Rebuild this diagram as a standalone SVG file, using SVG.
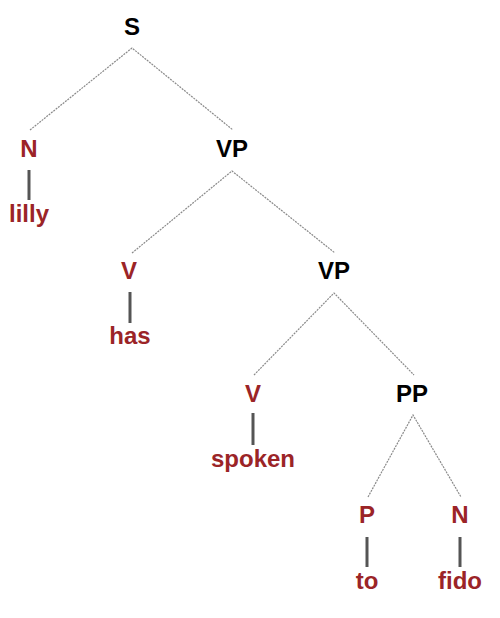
<svg xmlns="http://www.w3.org/2000/svg" width="500" height="618" viewBox="0 0 500 618">
<style>
text{font-family:"Liberation Sans",Arial,sans-serif;font-weight:bold;font-size:24px;text-anchor:middle}
.ph{fill:#000}
.lx{fill:#9b2427}
.br{stroke:#8a8a8a;stroke-width:1.2;fill:none;stroke-dasharray:2 1}
.st{stroke:#555;stroke-width:3}
</style>
<rect width="500" height="618" fill="#fff"/>
<g id="connectors">
<polyline class="br" points="30,130 132,48 233,130"/>
<polyline class="br" points="132,253 232,171 335,253"/>
<polyline class="br" points="254,375 334,293 414,375"/>
<polyline class="br" points="368,497 413,415 461,497"/>
<line class="st" x1="29" y1="170" x2="29" y2="200"/>
<line class="st" x1="130" y1="292" x2="130" y2="323"/>
<line class="st" x1="253" y1="413" x2="253" y2="445"/>
<line class="st" x1="367" y1="537" x2="367" y2="567"/>
<line class="st" x1="460" y1="537" x2="460" y2="567"/>
</g>
<g id="S"><text class="ph" x="132" y="35">S</text></g>
<g id="N1"><text class="lx" x="29" y="157">N</text></g>
<g id="lilly"><text class="lx" x="29" y="222">lilly</text></g>
<g id="VP1"><text class="ph" x="232" y="157">VP</text></g>
<g id="V1"><text class="lx" x="129" y="279">V</text></g>
<g id="has"><text class="lx" x="130" y="344">has</text></g>
<g id="VP2"><text class="ph" x="334" y="279">VP</text></g>
<g id="V2"><text class="lx" x="253" y="402">V</text></g>
<g id="spoken"><text class="lx" x="253" y="467">spoken</text></g>
<g id="PP"><text class="ph" x="412" y="402">PP</text></g>
<g id="P"><text class="lx" x="367" y="523">P</text></g>
<g id="to"><text class="lx" x="367" y="589">to</text></g>
<g id="N2"><text class="lx" x="460" y="523">N</text></g>
<g id="fido"><text class="lx" x="460" y="589">fido</text></g>
</svg>
